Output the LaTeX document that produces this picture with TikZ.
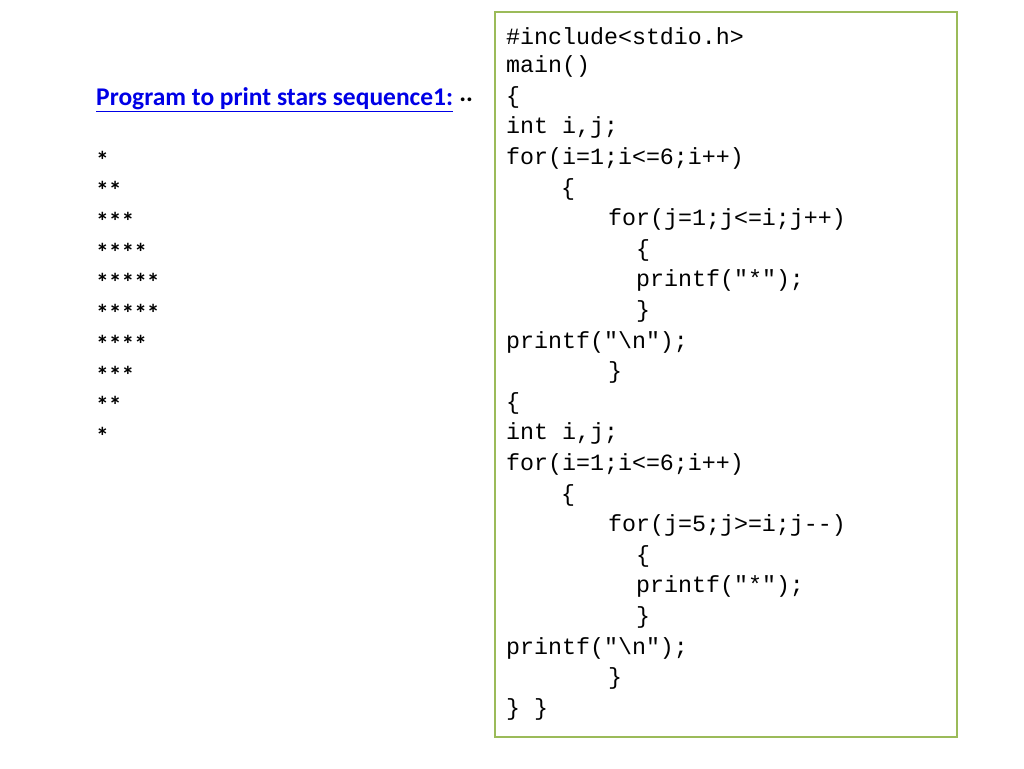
\documentclass[tikz,border=0pt]{standalone}
\usepackage{fontspec}
\setmainfont{Carlito}
\newfontfamily\codefont{Liberation Mono}
\begin{document}
\begin{tikzpicture}[x=1pt,y=-1pt,
  code/.style={anchor=west,inner sep=0pt,font=\codefont\fontsize{23.3}{26}\selectfont},
  star/.style={anchor=west,inner sep=0pt,font=\bfseries\fontsize{25.5}{28}\selectfont},
  ttl/.style={anchor=west,inner sep=0pt,font=\bfseries\fontsize{25.5}{28}\selectfont}]
\useasboundingbox (0,0) rectangle (1024,768);
\draw[line width=2.5pt,draw={rgb,255:red,155;green,187;blue,89}] (495,12) rectangle (957,737);
\node[ttl,text={rgb,255:red,0;green,0;blue,230}] (title) at (96,100) {\underline{Program to print stars sequence1:}};
\node[ttl] (dots) at (title.east) {\ ..};
\foreach \s [count=\i] in {*,**,***,****,*****,*****,****,***,**,*}
  \node[star] (s\i) at (96,{160+30.7*(\i-1)}) {\s};
\foreach \t/\x [count=\i] in {
 {\#include<stdio.h>}/506, {main()}/506, {\{}/506, {int i,j;}/506,
 {for(i=1;i<=6;i++)}/506, {\{}/561, {for(j=1;j<=i;j++)}/608, {\{}/636,
 {printf("*");}/636, {\}}/636, {printf("\textbackslash n");}/506, {\}}/608,
 {\{}/506, {int i,j;}/506, {for(i=1;i<=6;i++)}/506, {\{}/561,
 {for(j=5;j>=i;j--)}/608, {\{}/636, {printf("*");}/636, {\}}/636,
 {printf("\textbackslash n");}/506, {\}}/608, {\} \}}/506}
  \node[code] (c\i) at (\x,{36+30.6*(\i-1)}) {\t};
\end{tikzpicture}
\end{document}
